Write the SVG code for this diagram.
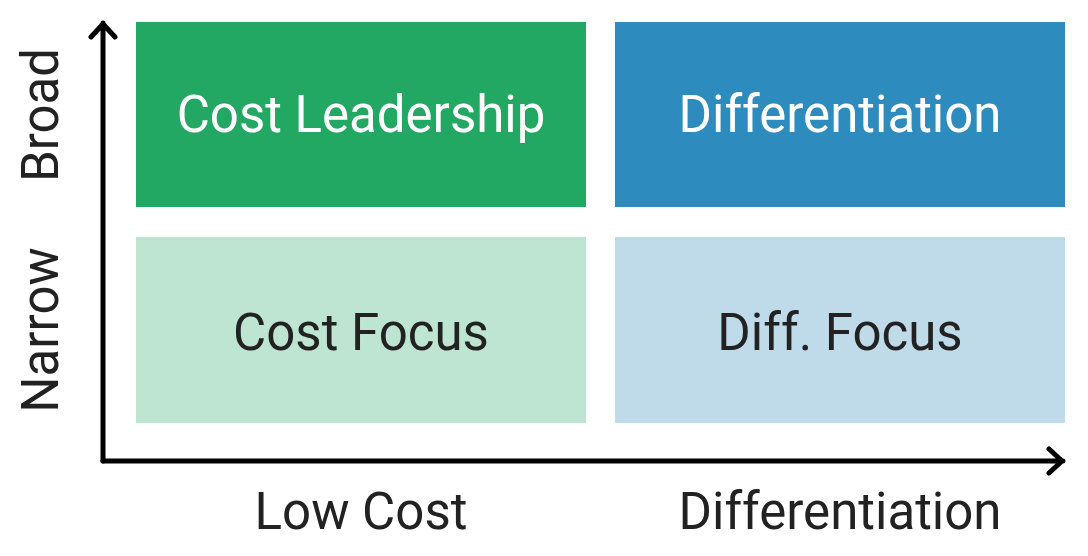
<svg xmlns="http://www.w3.org/2000/svg" width="1088" height="556" viewBox="0 0 1088 556">
<style>
text{font-family:Roboto,"Liberation Sans",sans-serif;text-anchor:middle}
.big{font-size:51px}
.w{fill:#ffffff}
.d{fill:#222222}
.ax{stroke:#000;stroke-width:5;fill:none;stroke-linecap:round;stroke-linejoin:round}
</style>
<rect width="1088" height="556" fill="#ffffff"/>
<g id="cost-leadership"><rect x="136" y="22" width="450" height="185" fill="#22A863"/><text class="big w" x="361" y="132">Cost Leadership</text></g>
<g id="differentiation"><rect x="615" y="22" width="450" height="185" fill="#2E8BBE"/><text class="big w" x="840" y="132">Differentiation</text></g>
<g id="cost-focus"><rect x="136" y="237" width="450" height="186" fill="#BDE5D2"/><text class="big d" x="361" y="350">Cost Focus</text></g>
<g id="diff-focus"><rect x="615" y="237" width="450" height="186" fill="#BFDBEA"/><text class="big d" x="840" y="350">Diff. Focus</text></g>
<g id="connectors">
<path class="ax" d="M103 461 V23 M91 37 L103 24 L115 37"/>
<path class="ax" d="M103 461 H1063 M1049 449 L1062 461 L1049 473"/>
</g>
<g id="labels">
<text class="big d" x="361" y="529">Low Cost</text>
<text class="big d" x="840" y="529">Differentiation</text>
<text class="big d" transform="translate(58,115) rotate(-90)">Broad</text>
<text class="big d" transform="translate(58,330) rotate(-90)">Narrow</text>
</g>
</svg>
